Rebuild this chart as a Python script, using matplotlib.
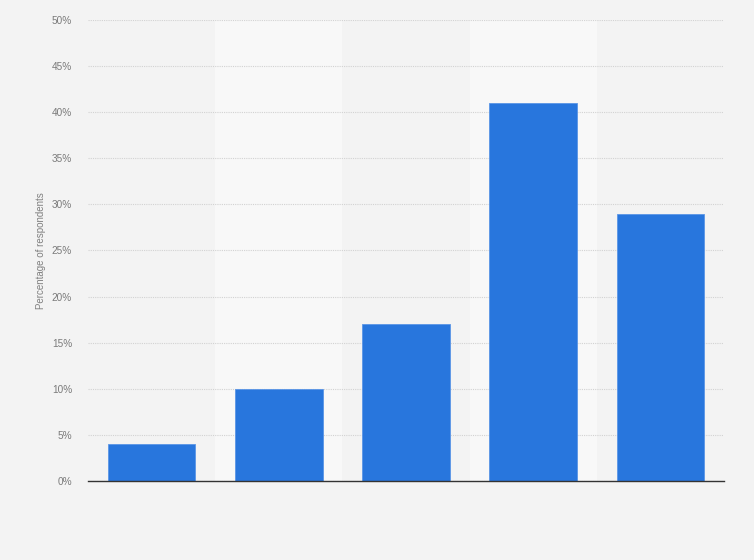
import matplotlib
matplotlib.use("Agg")
import matplotlib.pyplot as plt
import numpy as np

plt.rcParams["font.family"] = ["Liberation Sans", "DejaVu Sans"]

categories = ["A", "B", "C", "D", "E"]
values = [4, 10, 17, 41, 29]
yticks = [0, 5, 10, 15, 20, 25, 30, 35, 40, 45, 50]
ytick_labels = [f"{v}%" for v in yticks]

fig = plt.figure(figsize=(7.54, 5.6), dpi=100)
fig.patch.set_facecolor("#f3f3f3")
ax = fig.add_axes([88/754, 79/560, 636/754, 461/560])
ax.set_facecolor("#f3f3f3")

x = np.arange(len(categories))
for i in x:
    if i % 2 == 1:
        ax.axvspan(i - 0.5, i + 0.5, color="#f8f8f8", zorder=0, lw=0)

ax.bar(x, values, width=0.69, color="#2876dd", edgecolor="#5a95e6", linewidth=0.6, zorder=3)

ax.set_xlim(-0.5, len(categories) - 0.5)
ax.set_ylim(0, 50)
ax.set_yticks(yticks)
ax.set_yticklabels(ytick_labels, fontsize=7.2, color="#7a7a7a")
ax.set_xticks([])
ax.yaxis.grid(True, linestyle=(0, (1, 1)), color="#d2d2d2", linewidth=0.8, zorder=1)
ax.tick_params(axis="y", length=0, pad=11.5)
for s in ["top", "right", "left"]:
    ax.spines[s].set_visible(False)
ax.spines["bottom"].set_color("#333333")
ax.spines["bottom"].set_linewidth(1.0)
ax.spines["bottom"].set_zorder(4)

ax.set_ylabel("Percentage of respondents", fontsize=7, color="#808080", labelpad=4)

fig.savefig("out.png", dpi=100, facecolor=fig.get_facecolor())
